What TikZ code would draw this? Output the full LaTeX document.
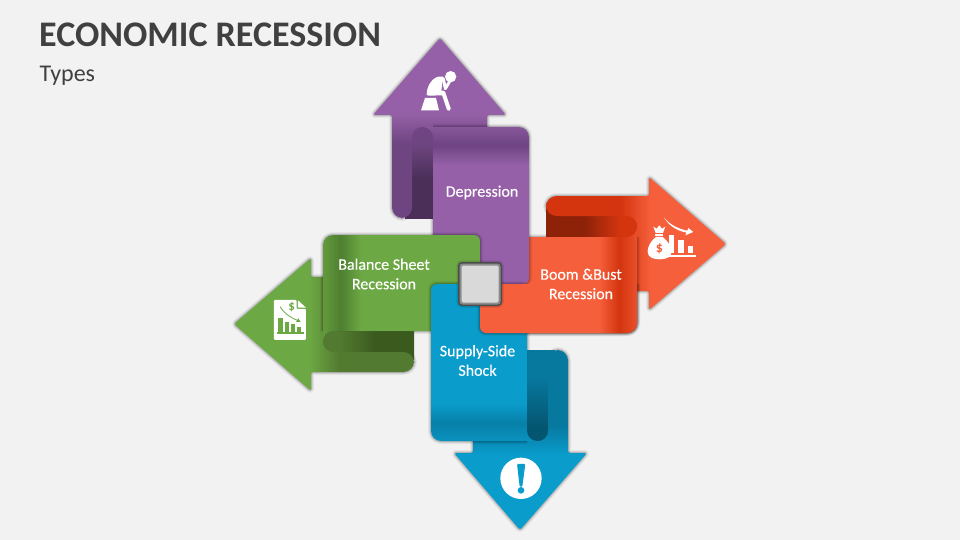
\documentclass[tikz,border=0pt]{standalone}
\usepackage{fontspec}
\setmainfont{Carlito}
\newfontfamily\labfont[FakeBold=0.25]{Carlito}
\definecolor{pageBg}{HTML}{F2F2F2}
\definecolor{titleC}{HTML}{404040}
\definecolor{pL}{HTML}{9560A8}\definecolor{pM}{HTML}{6E4580}\definecolor{pD}{HTML}{4B2F58}\definecolor{pR}{HTML}{6E4482}
\definecolor{oL}{HTML}{F55F3B}\definecolor{oM}{HTML}{D4350F}\definecolor{oD}{HTML}{8E2208}\definecolor{oR}{HTML}{D4350F}
\definecolor{gL}{HTML}{6CA843}\definecolor{gM}{HTML}{527A30}\definecolor{gD}{HTML}{3A5A1E}\definecolor{gR}{HTML}{4F7F31}
\definecolor{bL}{HTML}{0A9CCB}\definecolor{bM}{HTML}{07789E}\definecolor{bD}{HTML}{04556F}\definecolor{bR}{HTML}{0780A8}
\newcommand{\makeshades}[1]{%
\pgfdeclareverticalshading{#1back}{100bp}{color(0bp)=(#1M); color(45.7bp)=(#1M); color(54bp)=(#1L); color(100bp)=(#1L)}%
\pgfdeclareverticalshading{#1fold}{100bp}{color(0bp)=(#1D); color(46.4bp)=(#1D); color(65.7bp)=(#1M); color(100bp)=(#1M)}%
\pgfdeclareverticalshading{#1rib}{100bp}{color(0bp)=(#1L); color(62.9bp)=(#1L); color(69.3bp)=(#1R); color(75bp)=(#1L!65!#1R); color(100bp)=(#1L!65!#1R)}%
}
\makeshades{p}\makeshades{o}\makeshades{g}\makeshades{b}
\pgfdeclareverticalshading{bfoldrev}{100bp}{color(0bp)=(bM); color(40bp)=(bM); color(68bp)=(bD); color(100bp)=(bD)}
\def\backpath{(392,160) [rounded corners=2.5pt] -- (392,115) -- (373,115) -- (440,38) -- (506,115) -- (487,115) [sharp corners] -- (487,127) [rounded corners=10.5pt] -- (412,127) -- (412,218) -- (392,218) [sharp corners] -- cycle}
\def\ribbonpath{(433,140) -- (422,140) -- (422,127) [rounded corners=10pt] -- (529,127) [rounded corners=6pt] -- (529,284) -- (433,284) [sharp corners] -- cycle}
\newcommand{\glow}[1]{%
\draw[black,line width=6pt,opacity=.05,line join=round] #1;
\draw[black,line width=4pt,opacity=.08,line join=round] #1;
\draw[black,line width=2pt,opacity=.14,line join=round] #1;}
% #1 angle, #2 colour prefix, #3 fold shading
\newcommand{\backpiece}[3]{%
\begin{scope}[rotate around={#1:(480,284)}]
\glow{\backpath}
\shade[shading=#3,shading angle=#1] (405,127) rectangle (433,218);
\shade[shading=#2back,shading angle=#1] \backpath;
\end{scope}}
\newcommand{\ribbonpiece}[2]{%
\begin{scope}[rotate around={#1:(480,284)}]
\begin{scope}
\clip (433,100) -- (560,100) -- (560,300) -- (420,300) -- (420,218) -- (433,218) -- cycle;
\glow{\ribbonpath}
\end{scope}
\shade[shading=#2rib,shading angle=#1] \ribbonpath;
\end{scope}}
\newcommand{\foldcap}[2]{%
\begin{scope}[rotate around={#1:(480,284)}]
\fill[#2] (412,141) [rounded corners=10.4pt] -- (412,127) -- (433,127) [sharp corners] -- (433,141) -- cycle;
\end{scope}}
\tikzset{lab/.style={text=white,font=\labfont\fontsize{16}{19.5}\selectfont,align=center,inner sep=0pt},
  icon/.style={fill=white,draw=none}}
\begin{document}
\begin{tikzpicture}[x=1pt,y=-1pt]
\useasboundingbox (0,0) rectangle (960,540);
\fill[pageBg] (0,0) rectangle (960,540);
\node[text=titleC,font=\bfseries\fontsize{36}{40}\selectfont,anchor=base west,inner sep=0pt] (title) at (39,46.8) {ECONOMIC RECESSION};
\node[text=titleC,font=\fontsize{24}{28}\selectfont,anchor=base west,inner sep=0pt] (subtitle) at (39.5,82) {Types};
% back arrows with folds
\backpiece{0}{p}{pfold}
\backpiece{-90}{o}{ofold}
\backpiece{-180}{b}{bfoldrev}
\backpiece{-270}{g}{gfold}
% ribbons (a closed cycle of overlaps)
\ribbonpiece{-90}{o}
\ribbonpiece{0}{p}
\ribbonpiece{-270}{g}
\ribbonpiece{-180}{b}
\begin{scope}
\clip (470,284) rectangle (650,345);
\ribbonpiece{-90}{o}
\end{scope}
\foldcap{0}{pM}
\foldcap{-90}{oM}
\foldcap{-180}{bD}
\foldcap{-270}{gM}
% centre square
\fill[black,opacity=.12,rounded corners=5pt] (456.5,260.5) rectangle (503.5,307.5);
\fill[fill=black!70,rounded corners=4pt] (458,262) rectangle (502,306);
\fill[fill=black!45,rounded corners=3pt] (459.5,263.5) rectangle (500.5,304.5);
\fill[fill=black!15,rounded corners=1.5pt] (461.5,265.5) rectangle (498.5,302.5);
% labels
\node[lab] (depression) at (482,192.5) {Depression};
\node[lab] (boom) at (581,284) {Boom \&Bust\\Recession};
\node[lab] (balance) at (384,274) {Balance Sheet\\Recession};
\node[lab] (supply) at (477.5,360.5) {Supply-Side\\Shock};
% person icon
\begin{scope}[shift={(360,30)},x=0.3333pt,y=-0.3333pt]
\fill[icon] (272,140) circle (17);
\fill[icon] (183,241) -- (195,204) -- (228,204) -- (237,241) -- cycle;
\fill[icon] (200,194) .. controls (200,170) and (215,145) .. (235,140) -- (250,140) -- (246,165) -- (244,184) -- (250,196) -- (205,197) -- cycle;
\draw[white,line width=4pt,line cap=round,line join=round] (228,186) -- (250,188) -- (266,236);
\draw[white,line width=3pt,line cap=round,line join=round] (250,146) -- (256,176) -- (268,156);
\end{scope}
% money bag icon
\begin{scope}[shift={(530,170)},x=0.3333pt,y=-0.3333pt]
\fill[icon] (378,201) .. controls (360,215) and (353,232) .. (353,245) .. controls (353,262) and (370,268) .. (388,268) .. controls (408,268) and (425,262) .. (425,245) .. controls (425,232) and (416,215) .. (398,201) -- cycle;
\fill[icon] (370,170) -- (380,176) -- (388,166) -- (396,176) -- (406,170) -- (399,189) -- (377,189) -- cycle;
\fill[icon] (376,192) rectangle (400,198);
\node[text=oL,font=\bfseries\fontsize{14}{14}\selectfont,inner sep=0pt] (bagdollar) at (388,236) {\$};
\fill[icon] (418,195) rectangle (432,250);
\fill[icon] (445,210) rectangle (462,250);
\fill[icon] (473,228) rectangle (490,250);
\fill[icon] (418,256) rectangle (498,262);
\fill[icon] (402,143) .. controls (418,168) and (440,182) .. (470,188) -- (466,196) -- (490,186) -- (475,174) -- (472,182) .. controls (445,176) and (422,166) .. (402,143) -- cycle;
\end{scope}
% report icon
\begin{scope}[shift={(225,225)},x=0.3333pt,y=-0.3333pt]
\fill[icon,rounded corners=1pt] (147,225) -- (215,225) -- (215,252) -- (243,252) -- (243,345) -- (147,345) -- cycle;
\fill[icon] (219,226) -- (243,248) -- (219,248) -- cycle;
\node[text=gL,font=\bfseries\fontsize{13}{13}\selectfont,inner sep=0pt] (pagedollar) at (200,247) {\$};
\fill[gL] (160,278) rectangle (173,320);
\fill[gL] (180,290) rectangle (193,320);
\fill[gL] (198,298) rectangle (210,320);
\fill[gL] (216,305) rectangle (227,320);
\fill[gL] (155,322) rectangle (236,326);
\draw[gL,line width=.8pt] (165,245) .. controls (180,268) and (200,280) .. (222,288);
\fill[gL] (227,291) -- (213,291) -- (220,280) -- cycle;
\end{scope}
% alert icon
\begin{scope}[shift={(420,330)},x=0.3333pt,y=-0.3333pt]
\fill[icon] (303,445) circle (62);
\fill[bL,rounded corners=1pt] (291,402) -- (316,402) -- (307,470) -- (299,470) -- cycle;
\fill[bL] (303,481) circle (10);
\end{scope}
\end{tikzpicture}
\end{document}
